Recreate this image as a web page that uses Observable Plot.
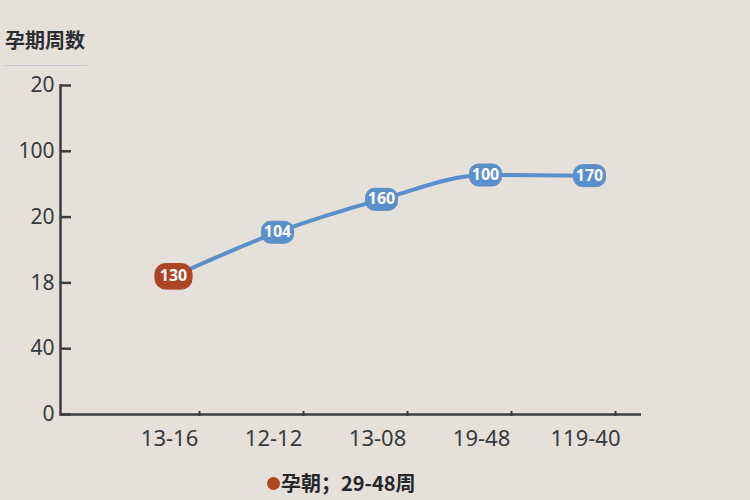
<!DOCTYPE html>
<html>
<head>
<meta charset="utf-8">
<script src="https://cdn.jsdelivr.net/npm/d3@7"></script>
<script src="https://cdn.jsdelivr.net/npm/@observablehq/plot@0.6"></script>
<style>
  html, body { margin: 0; padding: 0; background: #e5e0d9; width: 750px; height: 500px; overflow: hidden; }
  body { font-family: "Noto Sans", "Noto Sans CJK SC", sans-serif; position: relative; }
  #title { position: absolute; left: 5px; top: 25px; font-size: 20px; font-weight: 600; color: #2a2d31; font-family: "Noto Sans CJK SC", sans-serif; }
  #rule { position: absolute; left: 5px; top: 65px; width: 82px; height: 1px; background: #c8c4d3; }
  #chart { position: absolute; left: 0; top: 70px; }
  #legend { position: absolute; left: 267px; top: 470px; font-size: 20px; line-height: 26px; font-weight: 600; color: #25272a; display: flex; align-items: center; font-family: "Noto Sans CJK SC", sans-serif; }
  #legend .dot { width: 13px; height: 13px; border-radius: 50%; background: #b0451f; margin-right: 1px; }
</style>
</head>
<body>
<div id="title">孕期周数</div>
<div id="rule"></div>
<div id="chart"></div>
<div id="legend"><span class="dot"></span><span>孕朝；29-48周</span></div>
<script>
const categories = ["13-16", "12-12", "13-08", "19-48", "119-40"];
const values = [2.10, 2.77, 3.27, 3.64, 3.63];
const pointLabels = ["130", "104", "160", "100", "170"];
const pointColors = ["#ad4424", "#5a8fcb", "#5a8fcb", "#5a8fcb", "#5a8fcb"];
const yTicks = [0, 1, 2, 3, 4, 5];
const yTickLabels = ["0", "40", "18", "20", "100", "20"];

const data = categories.map((c, i) => ({cat: c, v: values[i], label: pointLabels[i], color: pointColors[i]}));

const pill = {
  draw(ctx, size) {
    const k = Math.sqrt(size / Math.PI) / 5;
    const w = 16 * k, h = 11 * k, r = 9 * k;
    ctx.moveTo(-w + r, -h);
    ctx.lineTo(w - r, -h);
    ctx.arcTo(w, -h, w, -h + r, r);
    ctx.lineTo(w, h - r);
    ctx.arcTo(w, h, w - r, h, r);
    ctx.lineTo(-w + r, h);
    ctx.arcTo(-w, h, -w, h - r, r);
    ctx.lineTo(-w, -h + r);
    ctx.arcTo(-w, -h, -w + r, -h, r);
    ctx.closePath();
  }
};

const font = "'Noto Sans', 'Noto Sans CJK SC', sans-serif";

const chart = Plot.plot({
  width: 750,
  height: 385,
  marginTop: 15,
  marginBottom: 41,
  marginLeft: 60,
  marginRight: 109,
  style: {background: "transparent", fontFamily: font, color: "#353a3f"},
  x: {type: "point", domain: categories, range: [172, 590], padding: 0, label: null},
  y: {domain: [0, 5], label: null},
  marks: [
    Plot.frame({anchor: "left", stroke: "#3a3d42", strokeWidth: 2.5}),
    Plot.ruleY([0], {stroke: "#3a3d42", strokeWidth: 2.5}),
    Plot.axisY({ticks: yTicks, tickFormat: (d, i) => yTickLabels[i], tickSize: 0, tickPadding: 6, fontSize: 21, fill: "#353a3f"}),
    Plot.axisY({ticks: yTicks, tickFormat: () => "", tickSize: -11, stroke: "#3a3d42", strokeWidth: 2.5}),
    Plot.axisX({tickSize: 0, tickPadding: 16, dx: -4, fontSize: 22, fill: "#353a3f"}),
    Plot.axisX({tickSize: 5, tickFormat: () => "", dx: 26, dy: -3, stroke: "#3a3d42", strokeWidth: 2}),
    Plot.line(data, {x: "cat", y: "v", stroke: "#5a8fcb", strokeWidth: 4, curve: "monotone-x"}),
    Plot.dot(data.slice(0, 1), {x: "cat", y: "v", symbol: pill, r: 5.8, fill: "color", stroke: "color", strokeWidth: 1}),
    Plot.dot(data.slice(1), {x: "cat", y: "v", symbol: pill, r: 5, fill: "color", stroke: "color", strokeWidth: 1}),
    Plot.text(data, {x: "cat", y: "v", text: "label", fill: "white", fontSize: 16, fontWeight: "bold", fontFamily: font})
  ]
});
document.getElementById("chart").appendChild(chart);
</script>
</body>
</html>
